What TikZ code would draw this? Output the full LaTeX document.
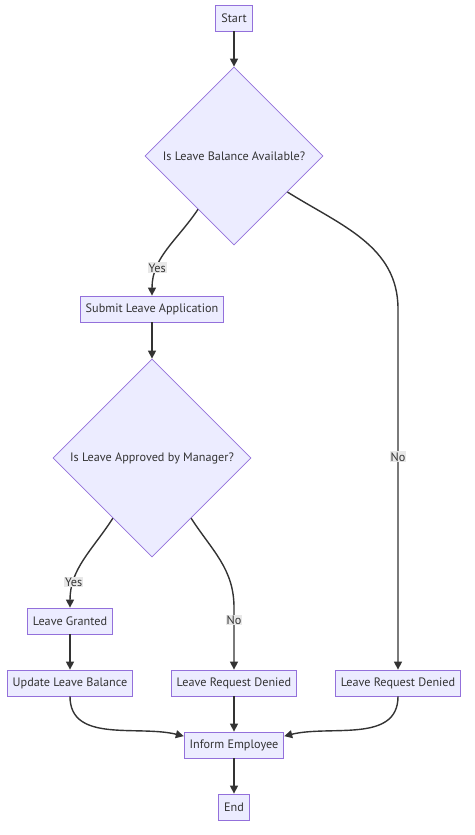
\documentclass[tikz,border=0pt]{standalone}
\usepackage{fontspec}
\setmainfont{PT Sans}
\usetikzlibrary{shapes.geometric,arrows.meta}
\definecolor{boxfill}{HTML}{ECECFF}
\definecolor{boxline}{HTML}{9370DB}
\definecolor{edgecol}{HTML}{333333}
\definecolor{lblfill}{HTML}{E8E8E8}

\begin{document}
\begin{tikzpicture}[x=1pt, y=-1pt,
		every node/.style={font=\fontsize{12.2}{14}\selectfont, text=edgecol},
		proc/.style={draw=boxline, fill=boxfill, line width=0.8pt, minimum height=26pt, inner xsep=5.5pt},
		decide/.style={draw=boxline, fill=boxfill, line width=0.8pt, diamond, aspect=1, inner sep=0pt},
		arr/.style={draw=edgecol, line width=1.4pt, -{Triangle[length=8pt,width=8pt]}},
		lbl/.style={fill=lblfill, inner sep=1pt}]
	\useasboundingbox (0,0) rectangle (474,835);
	\node[proc] (start) at (234,18) {Start};
	\node[decide, minimum size=178pt] (d1) at (234,156) {Is Leave Balance Available?};
	\node[proc] (sub) at (152,309) {Submit Leave Application};
	\node[decide, minimum size=198pt] (d2) at (152,458) {Is Leave Approved by Manager?};
	\node[proc] (gra) at (70,621) {Leave Granted};
	\node[proc] (upd) at (70,683) {Update Leave Balance};
	\node[proc] (den1) at (234,683) {Leave Request Denied};
	\node[proc] (den2) at (398,683) {Leave Request Denied};
	\node[proc] (inf) at (234,745) {Inform Employee};
	\node[proc] (stop) at (234,807) {End};
	\coordinate (bendr) at (den2 |- sub);
	\coordinate (bendm) at (den1 |- gra.north);

	\draw[arr] (start) -- (d1);
	\draw[arr] (d1.-124) to[out=-124, in=90] node[lbl, pos=0.72] {Yes} (sub);
	\draw[arr] (d1.-34) to[out=-32, in=90] (bendr) -- node[lbl, pos=0.41] {No} (den2);
	\draw[arr] (sub) -- (d2);
	\draw[arr] (d2.-123) to[out=-123, in=90] node[lbl, pos=0.75] {Yes} (gra);
	\draw[arr] (d2.-57) to[out=-57, in=90] (bendm) -- node[lbl, pos=0.2] {No} (den1);
	\draw[arr] (gra) -- (upd);
	\draw[arr] (upd.south) to[out=-90, in=166] (inf.170);
	\draw[arr] (den1) -- (inf);
	\draw[arr] (den2.south) to[out=-90, in=14] (inf.10);
	\draw[arr] (inf) -- (stop);
\end{tikzpicture}
\end{document}
